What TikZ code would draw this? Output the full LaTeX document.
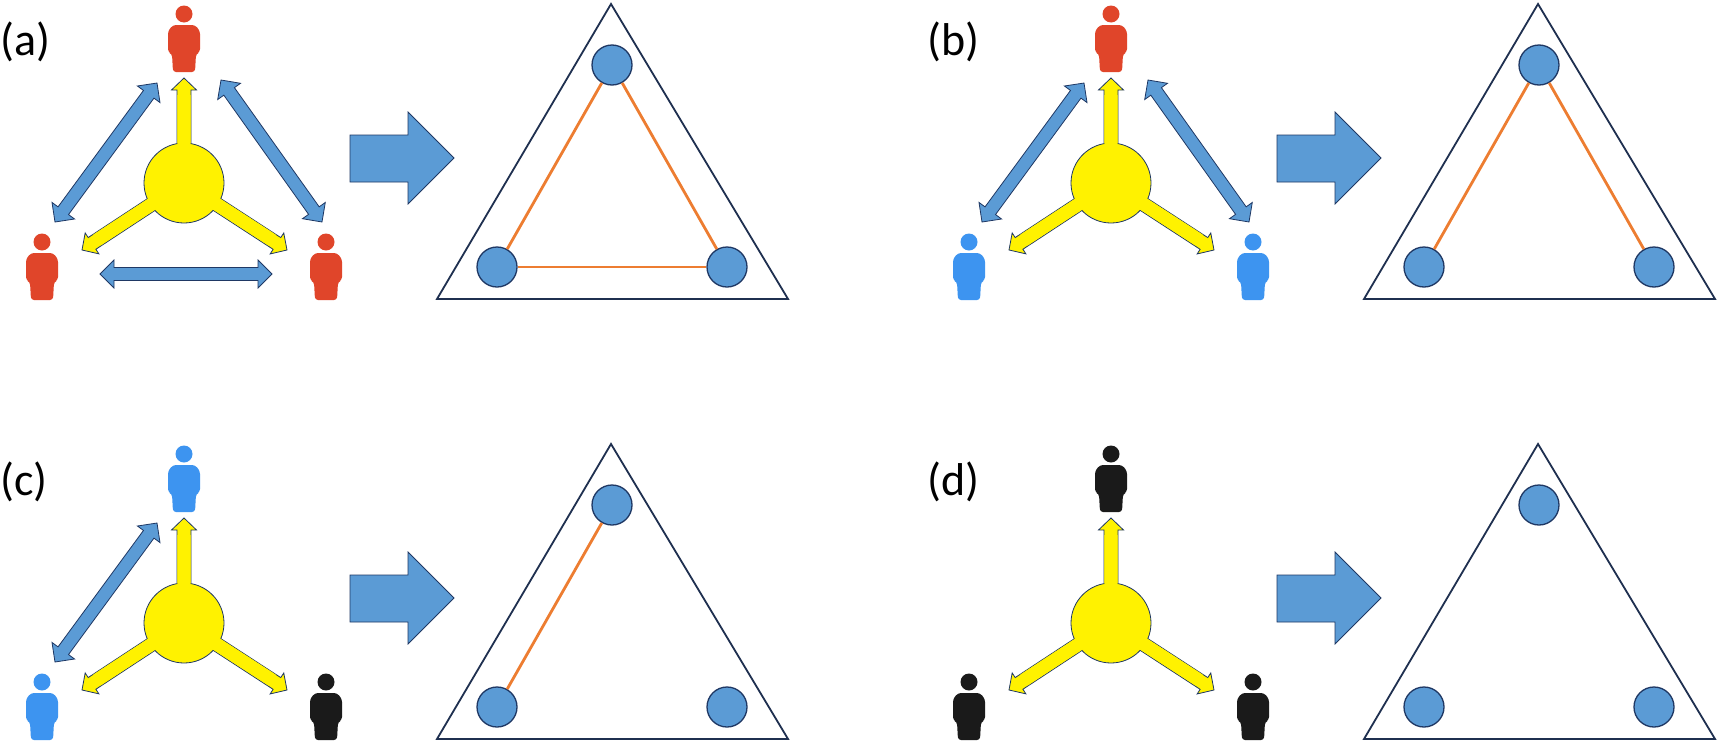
\documentclass[tikz,border=0pt]{standalone}
\usepackage{fontspec}
\setmainfont{Carlito}
\begin{document}
\begin{tikzpicture}[x=1pt,y=-1pt]
\definecolor{pred}{HTML}{E0452A}
\definecolor{pblue}{HTML}{3D94F0}
\definecolor{pblack}{HTML}{1A1A1A}
\definecolor{ablue}{HTML}{5B9BD5}
\definecolor{aline}{HTML}{1F3864}
\definecolor{orng}{HTML}{ED7D31}
\definecolor{tri}{HTML}{1F3050}
\tikzset{
  person/.pic={
    \fill[pic actions] (0,0) circle (8.5);
    \fill[pic actions,rounded corners=3pt] (-11,11) -- (11,11) -- (16,17) -- (16,38) -- (12,40) -- (11,58) -- (-11,58) -- (-12,40) -- (-16,38) -- (-16,17) -- cycle;
  },
  yarr/.style={fill=yellow,draw=aline,line width=0.8pt,line join=miter},
  barr/.style={fill=ablue,draw=aline,line width=0.8pt},
  dot/.style={circle,fill=ablue,draw=aline,line width=1.3pt,minimum size=40pt,inner sep=0pt},
  olink/.style={draw=orng,line width=2.8pt},
  trist/.style={draw=tri,line width=1.8pt,line join=miter},
  lab/.style={font=\fontsize{46}{48}\selectfont,anchor=west,inner sep=0pt}
}
\newcommand\fatarr[8]{%
  \pgfmathsetmacro\ang{atan2(-(#4-#2),#3-#1)}%
  \pgfmathsetmacro\len{veclen(#3-#1,#4-#2)}%
  \begin{scope}[shift={(#1,#2)},rotate=\ang,y=1pt]
    \path[#5] (0,-#6) -- (\len-#8,-#6) -- (\len-#8,-#7) -- (\len,0) -- (\len-#8,#7) -- (\len-#8,#6) -- (0,#6) -- cycle;
  \end{scope}}
\newcommand\dblarr[4]{%
  \pgfmathsetmacro\ang{atan2(-(#4-#2),#3-#1)}%
  \pgfmathsetmacro\len{veclen(#3-#1,#4-#2)}%
  \begin{scope}[shift={(#1,#2)},rotate=\ang,y=1pt]
    \path[barr] (0,0) -- (14,-14) -- (14,-6.5) -- (\len-14,-6.5) -- (\len-14,-14) -- (\len,0) -- (\len-14,14) -- (\len-14,6.5) -- (14,6.5) -- (14,14) -- cycle;
  \end{scope}}
\newcommand\panel[9]{%
\begin{scope}[shift={(#1,#2)}]
  \node[lab] (#9lab) at (0,42) {#3};
  \pic[fill=#4] at (184,14) {person};
  \pic[fill=#5] at (42,242) {person};
  \pic[fill=#6] at (326,242) {person};
  \fatarr{184}{183}{184}{78}{yarr}{7}{12.5}{12}
  \fatarr{184}{183}{82}{250}{yarr}{7}{12.5}{12}
  \fatarr{184}{183}{287}{250}{yarr}{7}{12.5}{12}
  \node[circle,fill=yellow,draw=aline,line width=0.8pt,minimum size=80pt,inner sep=0pt] (#9hub) at (184,183) {};
  \fatarr{184}{183}{184}{95}{fill=yellow}{6.6}{0}{0}
  \fatarr{184}{183}{97}{240}{fill=yellow}{6.6}{0}{0}
  \fatarr{184}{183}{272}{240}{fill=yellow}{6.6}{0}{0}
  #7
  \path[barr,line join=miter] (350,135) -- (408,135) -- (408,112) -- (454,158) -- (408,204) -- (408,182) -- (350,182) -- cycle;
  \coordinate (#9A) at (611,4);
  \coordinate (#9B) at (437,299);
  \coordinate (#9C) at (788,299);
  \draw[trist] (#9A) -- (#9B) -- (#9C) -- cycle;
  \node[dot] (#9t) at (612,65) {};
  \node[dot] (#9l) at (497,267) {};
  \node[dot] (#9r) at (727,267) {};
  #8
\end{scope}}
\path[fill=white] (0,0) rectangle (1725,742);
\panel{0}{0}{(a)}{pred}{pred}{pred}{\dblarr{157}{83}{55}{222}\dblarr{221}{80}{322}{222}\dblarr{100}{274}{272}{274}}{\draw[olink] (at) -- (al); \draw[olink] (at) -- (ar); \draw[olink] (al) -- (ar);}{a}
\panel{927}{0}{(b)}{pred}{pblue}{pblue}{\dblarr{157}{83}{55}{222}\dblarr{221}{80}{322}{222}}{\draw[olink] (bt) -- (bl); \draw[olink] (bt) -- (br);}{b}
\panel{0}{440}{(c)}{pblue}{pblue}{pblack}{\dblarr{157}{83}{55}{222}}{\draw[olink] (ct) -- (cl);}{c}
\panel{927}{440}{(d)}{pblack}{pblack}{pblack}{}{}{d}
\end{tikzpicture}
\end{document}
